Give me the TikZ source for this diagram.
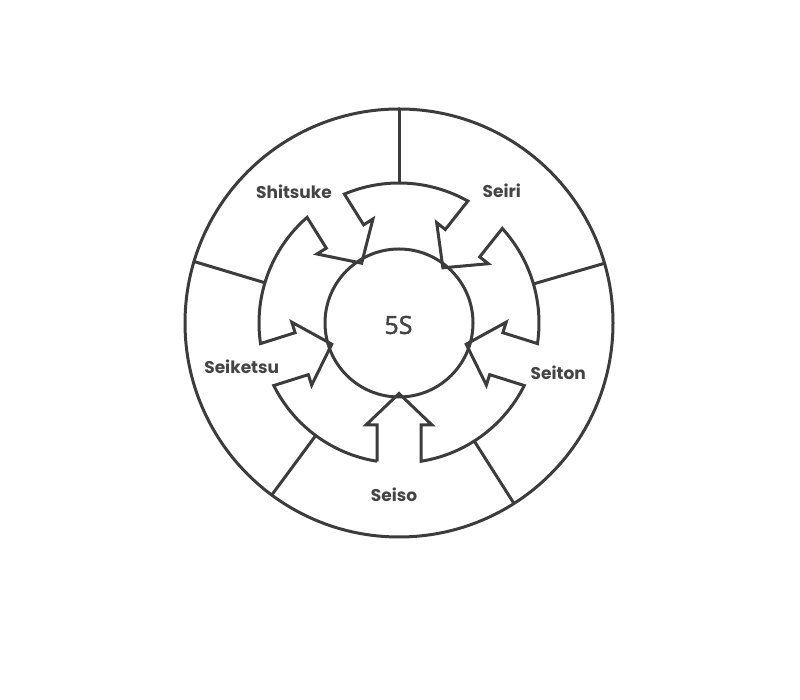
\documentclass[tikz,border=0pt]{standalone}
\usepackage{fontspec}
\usetikzlibrary{calc}
\newfontfamily\lblfont{Poppins}
\newfontfamily\ctrfont{Noto Sans}[UprightFeatures={FakeBold=1.4}]
\definecolor{ink}{RGB}{60,60,60}
\definecolor{txt}{RGB}{68,68,68}
\tikzset{
  lbl/.style={text=txt, font=\lblfont\bfseries\fontsize{17}{20}\selectfont, inner sep=0pt},
  ctr/.style={text=txt, font=\ctrfont\fontsize{25}{29}\selectfont, inner sep=0pt},
  ring/.style={draw=ink, line width=3pt, line join=miter, miter limit=4, line cap=round}
}
\begin{document}
\begin{tikzpicture}[x=1pt,y=1pt]
\useasboundingbox (0,0) rectangle (800,700);
\coordinate (C) at (399,377);
% outer and inner circles
\draw[ring] (C) circle[radius=214];
\draw[ring] (C) circle[radius=74];
% dividers
\foreach \t in {90,16.2,-57.5,-126.5,163.3}
  \draw[ring] ($(C)+(\t:140)$) -- ($(C)+(\t:214)$);
% ring of inward arrows
\draw[ring] ($(C)+(-90:138.26)+(-180:22)$)
  \foreach \a/\b in {-90/-17.5,-17.5/51.5,51.5/122,122/197.5,197.5/270} {
    -- ($(C)+(\a:102)+(\a-90:22)$)
    -- ($(C)+(\a:102)+(\a-90:33)$)
    -- ($(C)+(\a:70.5)$)
    -- ($(C)+(\a:102)+(\a+90:33)$)
    -- ($(C)+(\a:102)+(\a+90:22)$)
    -- ($(C)+(\a:138.26)+(\a+90:22)$)
    arc[start angle=\a+9.04, end angle=\b-9.04, radius=140]
  } -- cycle;
% labels
\node[lbl] (shitsuke) at (294,508.5) {Shitsuke};
\node[lbl] (seiri) at (501.7,509) {Seiri};
\node[lbl] (seiton) at (558.3,327.5) {Seiton};
\node[lbl] (seiso) at (394,205) {Seiso};
\node[lbl] (seiketsu) at (241.7,333.5) {Seiketsu};
\node[ctr] (fives) at (398.5,375) {5S};
\end{tikzpicture}
\end{document}
